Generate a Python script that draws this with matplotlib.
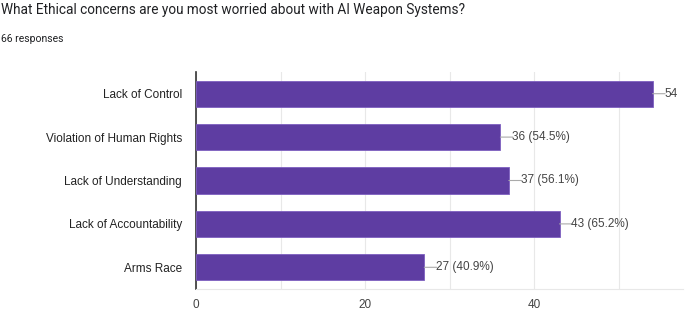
import matplotlib.pyplot as plt

# ---------- data ----------
categories = ["Lack of Control", "Violation of Human Rights", "Lack of Understanding",
              "Lack of Accountability", "Arms Race"]
counts = [54, 36, 37, 43, 27]
# first label is cut off by the image edge in the original, only the count shows
percents = [None, "54.5%", "56.1%", "65.2%", "40.9%"]
ticks = [0, 20, 40]

TITLE = "What Ethical concerns are you most worried about with AI Weapon Systems?"
SUBTITLE = "66 responses"

BAR = "#5e3da2"
TXT = "#444444"

plt.rcParams["font.family"] = ["Liberation Sans", "DejaVu Sans"]

fig = plt.figure(figsize=(6.85, 3.10), dpi=100)
ax = fig.add_axes([196/685, 1 - 289/310, (683-196)/685, (289-72)/310])

y = list(range(len(categories)))
ax.barh(y, counts, height=0.6, color=BAR, edgecolor="#7e5fc0", linewidth=0.6, zorder=3)
ax.set_ylim(len(categories) - 0.5, -0.5)
ax.set_xlim(0, 57.6)

# value labels with short leader line
for yi, c, p in zip(y, counts, percents):
    ax.annotate("", xy=(c, yi), xytext=(9, 0), textcoords="offset points",
                arrowprops=dict(arrowstyle="-", color="#aaaaaa", lw=0.8,
                                shrinkA=0, shrinkB=0), annotation_clip=False)
    label = f"{c} ({p})" if p else f"{c}"
    ax.annotate(label, xy=(c, yi), xytext=(8.5, 0), textcoords="offset points",
                va="center", ha="left", fontsize=8.5, color=TXT,
                annotation_clip=False)

ax.set_yticks(y)
ax.set_yticklabels(categories, fontsize=8.5, color="#222222")
ax.set_xticks(ticks)
ax.set_xticklabels([str(t) for t in ticks], fontsize=8.5, color=TXT)
ax.set_xticks(range(10, 60, 10), minor=True)
ax.tick_params(axis="both", length=0, pad=7)
ax.tick_params(axis="y", pad=10)
ax.tick_params(axis="x", which="minor", length=0)

ax.grid(axis="x", which="both", color="#e8e8e8", linewidth=0.8, zorder=0)
for s in ["top", "right"]:
    ax.spines[s].set_visible(False)
ax.spines["left"].set_color("#333333")
ax.spines["left"].set_linewidth(1.2)
ax.spines["bottom"].set_color("#e8e8e8")
ax.spines["bottom"].set_linewidth(0.8)

fig.text(1/685, 1 - 10/310, TITLE, fontsize=9.8, family=["Roboto", "DejaVu Sans"],
         color="#202124", va="center", ha="left")
fig.text(1/685, 1 - 39/310, SUBTITLE, fontsize=7.5, family=["Roboto", "DejaVu Sans"],
         color="#202124", va="center", ha="left")

fig.savefig("out.png", dpi=100)
